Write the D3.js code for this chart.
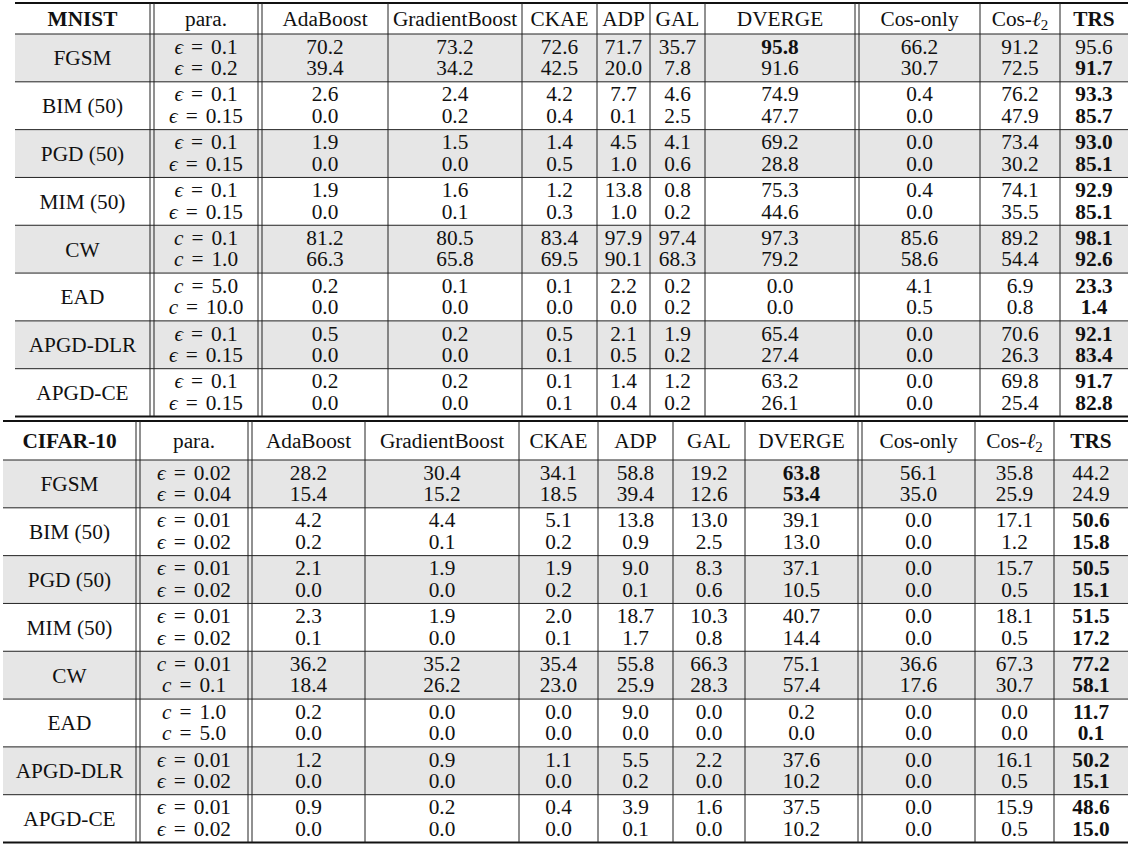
<!DOCTYPE html>
<html>
<head>
<meta charset="utf-8">
<script src="https://cdn.jsdelivr.net/npm/d3@7"></script>
<style>
  body { margin: 0; background: #fff; }
  text { font-family: "Liberation Serif", "Times New Roman", serif; font-size: 21.3px; fill: #111; }
  .bold { font-weight: bold; }
</style>
</head>
<body>
<div id="viz"></div>
<script>
// ---- data ----
var models = ['AdaBoost', 'GradientBoost', 'CKAE', 'ADP', 'GAL', 'DVERGE', 'Cos-only', 'Cos-l2', 'TRS'];
var attacks = ['FGSM', 'BIM (50)', 'PGD (50)', 'MIM (50)', 'CW', 'EAD', 'APGD-DLR', 'APGD-CE'];

// parameter per sub-row: [symbol, value]
var mnistParams = [
  ['ϵ', '0.1'], ['ϵ', '0.2'], ['ϵ', '0.1'], ['ϵ', '0.15'], ['ϵ', '0.1'], ['ϵ', '0.15'], ['ϵ', '0.1'], ['ϵ', '0.15'],
  ['c', '0.1'], ['c', '1.0'], ['c', '5.0'], ['c', '10.0'], ['ϵ', '0.1'], ['ϵ', '0.15'], ['ϵ', '0.1'], ['ϵ', '0.15']
];
var cifarParams = [
  ['ϵ', '0.02'], ['ϵ', '0.04'], ['ϵ', '0.01'], ['ϵ', '0.02'], ['ϵ', '0.01'], ['ϵ', '0.02'], ['ϵ', '0.01'], ['ϵ', '0.02'],
  ['c', '0.01'], ['c', '0.1'], ['c', '1.0'], ['c', '5.0'], ['ϵ', '0.01'], ['ϵ', '0.02'], ['ϵ', '0.01'], ['ϵ', '0.02']
];

var mnistValues = [
  [70.2, 73.2, 72.6, 71.7, 35.7, 95.8, 66.2, 91.2, 95.6],
  [39.4, 34.2, 42.5, 20.0, 7.8, 91.6, 30.7, 72.5, 91.7],
  [2.6, 2.4, 4.2, 7.7, 4.6, 74.9, 0.4, 76.2, 93.3],
  [0.0, 0.2, 0.4, 0.1, 2.5, 47.7, 0.0, 47.9, 85.7],
  [1.9, 1.5, 1.4, 4.5, 4.1, 69.2, 0.0, 73.4, 93.0],
  [0.0, 0.0, 0.5, 1.0, 0.6, 28.8, 0.0, 30.2, 85.1],
  [1.9, 1.6, 1.2, 13.8, 0.8, 75.3, 0.4, 74.1, 92.9],
  [0.0, 0.1, 0.3, 1.0, 0.2, 44.6, 0.0, 35.5, 85.1],
  [81.2, 80.5, 83.4, 97.9, 97.4, 97.3, 85.6, 89.2, 98.1],
  [66.3, 65.8, 69.5, 90.1, 68.3, 79.2, 58.6, 54.4, 92.6],
  [0.2, 0.1, 0.1, 2.2, 0.2, 0.0, 4.1, 6.9, 23.3],
  [0.0, 0.0, 0.0, 0.0, 0.2, 0.0, 0.5, 0.8, 1.4],
  [0.5, 0.2, 0.5, 2.1, 1.9, 65.4, 0.0, 70.6, 92.1],
  [0.0, 0.0, 0.1, 0.5, 0.2, 27.4, 0.0, 26.3, 83.4],
  [0.2, 0.2, 0.1, 1.4, 1.2, 63.2, 0.0, 69.8, 91.7],
  [0.0, 0.0, 0.1, 0.4, 0.2, 26.1, 0.0, 25.4, 82.8]
];
var cifarValues = [
  [28.2, 30.4, 34.1, 58.8, 19.2, 63.8, 56.1, 35.8, 44.2],
  [15.4, 15.2, 18.5, 39.4, 12.6, 53.4, 35.0, 25.9, 24.9],
  [4.2, 4.4, 5.1, 13.8, 13.0, 39.1, 0.0, 17.1, 50.6],
  [0.2, 0.1, 0.2, 0.9, 2.5, 13.0, 0.0, 1.2, 15.8],
  [2.1, 1.9, 1.9, 9.0, 8.3, 37.1, 0.0, 15.7, 50.5],
  [0.0, 0.0, 0.2, 0.1, 0.6, 10.5, 0.0, 0.5, 15.1],
  [2.3, 1.9, 2.0, 18.7, 10.3, 40.7, 0.0, 18.1, 51.5],
  [0.1, 0.0, 0.1, 1.7, 0.8, 14.4, 0.0, 0.5, 17.2],
  [36.2, 35.2, 35.4, 55.8, 66.3, 75.1, 36.6, 67.3, 77.2],
  [18.4, 26.2, 23.0, 25.9, 28.3, 57.4, 17.6, 30.7, 58.1],
  [0.2, 0.0, 0.0, 9.0, 0.0, 0.2, 0.0, 0.0, 11.7],
  [0.0, 0.0, 0.0, 0.0, 0.0, 0.0, 0.0, 0.0, 0.1],
  [1.2, 0.9, 1.1, 5.5, 2.2, 37.6, 0.0, 16.1, 50.2],
  [0.0, 0.0, 0.0, 0.2, 0.0, 10.2, 0.0, 0.5, 15.1],
  [0.9, 0.2, 0.4, 3.9, 1.6, 37.5, 0.0, 15.9, 48.6],
  [0.0, 0.0, 0.0, 0.1, 0.0, 10.2, 0.0, 0.5, 15.0]
];

// index of the bold (best) model in each sub-row
var mnistBest = [5, 8, 8, 8, 8, 8, 8, 8, 8, 8, 8, 8, 8, 8, 8, 8];
var cifarBest = [5, 5, 8, 8, 8, 8, 8, 8, 8, 8, 8, 8, 8, 8, 8, 8];

// ---- layout ----
var svg = d3.select('#viz')
    .append('svg')
    .attr('width', 1133)
    .attr('height', 853);

var fmt = d3.format('.1f');
var lineColor = '#222';

var mnistLayout = {
  title: 'MNIST',
  edges: [15, 150, 258, 388, 522, 597, 650, 705, 855, 980, 1060, 1128],
  doubles: [1, 2, 8],
  top: 3, headBottom: 34, bottom: 416.5
};
var cifarLayout = {
  title: 'CIFAR-10',
  edges: [3, 136, 248, 365, 519, 598, 673, 745, 858, 975, 1054, 1128],
  doubles: [1, 2, 8],
  top: 421, headBottom: 460, bottom: 842.5
};

drawTable(mnistLayout, mnistParams, mnistValues, mnistBest);
drawTable(cifarLayout, cifarParams, cifarValues, cifarBest);

function drawTable(L, params, values, best) {
    var g = svg.append('g');
    var left = L.edges[0], right = L.edges[L.edges.length - 1];

    // column centres
    var cols = [];
    for (var i = 0; i < L.edges.length - 1; i++) {
        var a = L.edges[i] + (L.doubles.indexOf(i) >= 0 ? 4 : 0);
        cols.push((a + L.edges[i + 1]) / 2);
    }
    var x = d3.scaleOrdinal()
        .domain(['name', 'para'].concat(models))
        .range(cols);

    var yGroup = d3.scaleBand()
        .domain(attacks)
        .range([L.headBottom, L.bottom]);
    // the two sub-rows sit a little high in each group
    var ySub = d3.scaleBand()
        .domain([0, 1])
        .range([1.5, yGroup.bandwidth() - 3.5]);

    // shaded groups
    g.selectAll('rect.shade')
        .data(attacks.filter(function(d, i) { return i % 2 == 0; }))
        .enter().append('rect')
        .attr('class', 'shade')
        .attr('x', left)
        .attr('width', right - left)
        .attr('y', function(d) { return yGroup(d); })
        .attr('height', yGroup.bandwidth())
        .attr('fill', '#e6e6e6');

    // group separators
    g.selectAll('line.sep')
        .data(attacks.slice(1))
        .enter().append('line')
        .attr('x1', left).attr('x2', right)
        .attr('y1', function(d) { return yGroup(d); })
        .attr('y2', function(d) { return yGroup(d); })
        .attr('stroke', lineColor).attr('stroke-width', 1);

    g.append('line')
        .attr('x1', left).attr('x2', right)
        .attr('y1', L.headBottom).attr('y2', L.headBottom)
        .attr('stroke', lineColor).attr('stroke-width', 1);

    // thick rules
    [L.top, L.bottom].forEach(function(yy) {
        g.append('line')
            .attr('x1', left).attr('x2', right)
            .attr('y1', yy).attr('y2', yy)
            .attr('stroke', '#111').attr('stroke-width', 1.8);
    });

    // vertical rules
    var vx = [];
    L.edges.slice(1, -1).forEach(function(e, k) {
        vx.push(e);
        if (L.doubles.indexOf(k + 1) >= 0) vx.push(e + 4);
    });
    g.selectAll('line.v')
        .data(vx)
        .enter().append('line')
        .attr('x1', function(d) { return d; })
        .attr('x2', function(d) { return d; })
        .attr('y1', L.top).attr('y2', L.bottom)
        .attr('stroke', lineColor).attr('stroke-width', 1);

    // header
    var headY = (L.top + L.headBottom) / 2;
    g.append('text')
        .attr('class', 'bold')
        .attr('x', x('name')).attr('y', headY).attr('dy', '0.35em')
        .attr('text-anchor', 'middle')
        .text(L.title);
    g.append('text')
        .attr('x', x('para')).attr('y', headY).attr('dy', '0.35em')
        .attr('text-anchor', 'middle')
        .text('para.');
    models.forEach(function(m) {
        var t = g.append('text')
            .attr('x', x(m)).attr('y', headY).attr('dy', '0.35em')
            .attr('text-anchor', 'middle')
            .attr('class', m == 'TRS' ? 'bold' : null);
        if (m == 'Cos-l2') {
            t.append('tspan').text('Cos-');
            t.append('tspan').attr('font-style', 'italic').text('ℓ');
            t.append('tspan').attr('font-size', '15px').attr('dy', '4').text('2');
        } else {
            t.text(m);
        }
    });

    // attack names
    g.selectAll('text.attack')
        .data(attacks)
        .enter().append('text')
        .attr('class', 'attack')
        .attr('x', x('name'))
        .attr('y', function(d) { return yGroup(d) + yGroup.bandwidth() / 2; })
        .attr('dy', '0.35em')
        .attr('text-anchor', 'middle')
        .text(function(d) { return d; });

    // rows
    values.forEach(function(row, r) {
        var yy = yGroup(attacks[Math.floor(r / 2)]) + ySub(r % 2) + ySub.bandwidth() / 2;
        var p = g.append('text')
            .attr('x', x('para')).attr('y', yy).attr('dy', '0.35em')
            .attr('text-anchor', 'middle');
        p.append('tspan').attr('font-style', 'italic').text(params[r][0]);
        p.append('tspan').attr('dx', 8).text('=');
        p.append('tspan').attr('dx', 8).text(params[r][1]);

        row.forEach(function(v, c) {
            g.append('text')
                .attr('x', x(models[c])).attr('y', yy).attr('dy', '0.35em')
                .attr('text-anchor', 'middle')
                .attr('class', best[r] == c ? 'bold' : null)
                .text(fmt(v));
        });
    });
}
</script>
</body>
</html>
